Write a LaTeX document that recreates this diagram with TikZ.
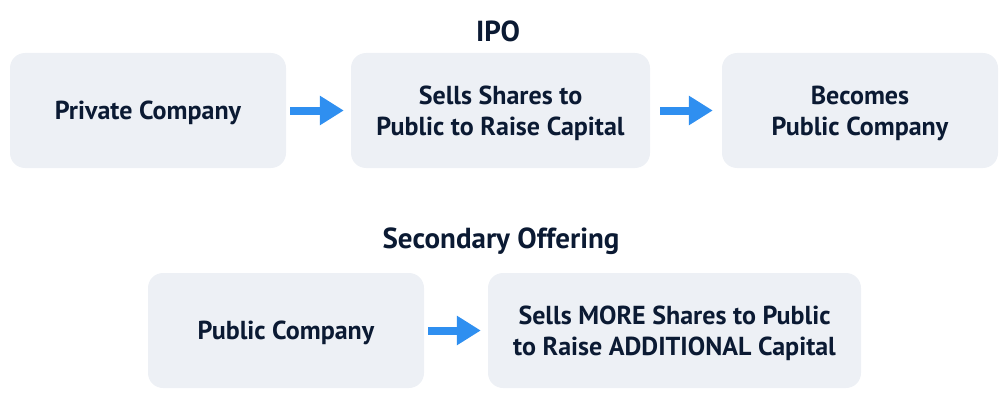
\documentclass[tikz,border=0pt]{standalone}
\usepackage{fontspec}
\setmainfont{PT Sans}
\usetikzlibrary{arrows.meta}
\definecolor{boxfill}{HTML}{EDF0F5}
\definecolor{navy}{HTML}{0B1A33}
\definecolor{arrowblue}{HTML}{2F8FF0}
\begin{document}
\begin{tikzpicture}
  [
  x=1pt, y=-1pt,
  font=\fontsize{26}{31}\selectfont\bfseries, text=navy,
  stepbox/.style={rectangle, rounded corners=15pt, fill=boxfill, minimum height=115pt, align=center, inner sep=0pt, text depth=0pt},
  title/.style={font=\fontsize{29}{31}\selectfont\bfseries},
  flow/.style={draw=arrowblue, line width=8pt, -{Triangle[length=24pt, width=28pt]}},
  ]
\useasboundingbox (0,0) rectangle (1007,404);

\node[title] (ipo) at (498,31) {IPO};
\node[title] (secondary) at (501,241) {Secondary Offering};

\node[stepbox, minimum width=276pt] (private) at (148,110.5) {Private Company};
\node[stepbox, minimum width=299pt] (sells) at (500.5,110.5) {Sells Shares to\\Public to Raise Capital};
\node[stepbox, minimum width=276pt] (becomes) at (860,110.5) {Becomes\\Public Company};

\node[stepbox, minimum width=276pt] (public) at (286,330.5) {Public Company};
\node[stepbox, minimum width=373pt] (sellsmore) at (674.5,330.5) {Sells MORE Shares to Public\\to Raise ADDITIONAL Capital};

\draw[flow, shorten <=4pt, shorten >=7pt] (private) -- (sells);
\draw[flow, shorten <=10pt, shorten >=9pt] (sells) -- (becomes);
\draw[flow, shorten <=4pt, shorten >=7pt] (public) -- (sellsmore);
\end{tikzpicture}
\end{document}
